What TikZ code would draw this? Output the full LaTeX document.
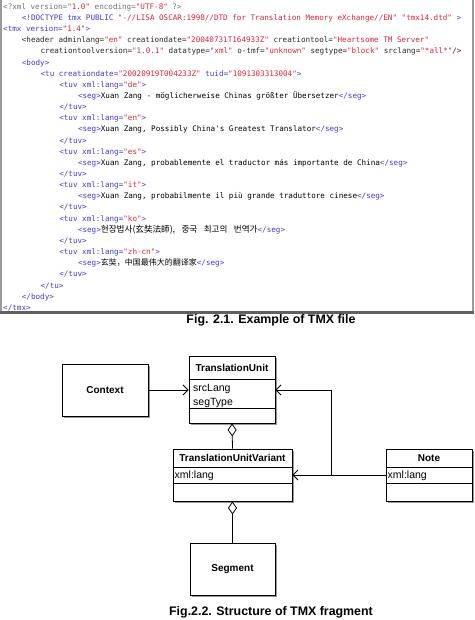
\documentclass[tikz,border=0pt]{standalone}
\usepackage{fontspec}
\usetikzlibrary{arrows.meta,shadows}
\newfontfamily\codefont[Ligatures=TeXOff]{DejaVu Sans Mono}
\newfontfamily\uifont{Liberation Sans}
\newfontfamily\krfont{Noto Sans CJK KR}
\newfontfamily\scfont{Noto Sans CJK SC}
\definecolor{xmltag}{RGB}{70,58,200}
\definecolor{xmlval}{RGB}{220,38,58}
\definecolor{xmldecl}{RGB}{115,115,115}
\definecolor{xmlhead}{RGB}{45,40,40}
\definecolor{shotframe}{RGB}{128,128,128}
\newcommand{\xtag}[1]{\textcolor{xmltag}{#1}}
\newcommand{\xval}[1]{\textcolor{xmlval}{#1}}
\newcommand{\xdecl}[1]{\textcolor{xmldecl}{#1}}
\newcommand{\xhead}[1]{\textcolor{xmlhead}{#1}}

\begin{document}
\begin{tikzpicture}[x=1pt, y=-1pt,
    code/.style={anchor=base west, inner sep=0pt,
                 font=\codefont\fontsize{7.6}{9}\selectfont},
    figcap/.style={inner sep=0pt, font=\uifont\bfseries\fontsize{12.4}{14}\selectfont},
    cls/.style={draw=black, fill=white, line width=0.9pt, inner sep=0pt,
                drop shadow={shadow xshift=1.8pt, shadow yshift=-1.8pt,
                             fill=black!40, opacity=1}},
    clsname/.style={inner sep=0pt, font=\uifont\bfseries\fontsize{10}{12}\selectfont},
    attr/.style={anchor=base west, inner sep=0pt,
                 font=\uifont\fontsize{10.5}{12}\selectfont},
    sep/.style={draw=black, line width=0.9pt},
    assoc/.style={draw=black, line width=0.8pt,
                  -{Straight Barb[length=5pt, width=10pt]}},
    agg/.style={draw=black, line width=0.8pt,
                {Diamond[open, length=13pt, width=9pt]}-}]
  \useasboundingbox[fill=white] (0,0) rectangle (474,620);

  % --- screenshot of the TMX file
  \draw[shotframe!80, line width=2.2pt] (1.1,0) -- (1.1,312);
  \draw[shotframe!80, line width=2.2pt] (472.9,0) -- (472.9,312);
  \draw[shotframe!75!black, line width=2.8pt] (0,312.6) -- (474,312.6);

  \node[code] (l1)  at (3,9.3)      {\xdecl{<?xml version=}\xval{"1.0"} \xdecl{encoding=}\xval{"UTF-8"} \xdecl{?>}};
  \node[code] (l2)  at (21.7,20.5)  {\xtag{<!DOCTYPE tmx PUBLIC} \xval{"-//LISA OSCAR:1998//DTD for Translation Memory eXchange//EN"} \xval{"tmx14.dtd"} \xtag{>}};
  \node[code] (l3)  at (3,31.6)     {\xtag{<tmx version=}\xval{"1.4"}\xtag{>}};
  \node[code] (l4)  at (21.7,42.8)  {\xhead{<header adminlang=}\xval{"en"} \xhead{creationdate=}\xval{"20040731T164933Z"} \xhead{creationtool=}\xval{"Heartsome TM Server"}};
  \node[code] (l5)  at (40.4,53.9)  {\xhead{creationtoolversion=}\xval{"1.0.1"} \xhead{datatype=}\xval{"xml"} \xhead{o-tmf=}\xval{"unknown"} \xhead{segtype=}\xval{"block"} \xhead{srclang=}\xval{"*all*"}\xhead{/>}};
  \node[code] (l6)  at (21.7,65.1)  {\xtag{<body>}};
  \node[code] (l7)  at (40.4,76.2)  {\xtag{<tu creationdate=}\xval{"20020919T004233Z"} \xtag{tuid=}\xval{"1091303313004"}\xtag{>}};
  \node[code] (l8)  at (59.1,87.4)  {\xtag{<tuv xml:lang=}\xval{"de"}\xtag{>}};
  \node[code] (l9)  at (77.8,98.5)  {\xtag{<seg>}Xuan Zang - möglicherweise Chinas größter Übersetzer\xtag{</seg>}};
  \node[code] (l10) at (59.1,109.7) {\xtag{</tuv>}};
  \node[code] (l11) at (59.1,120.8) {\xtag{<tuv xml:lang=}\xval{"en"}\xtag{>}};
  \node[code] (l12) at (77.8,132.0) {\xtag{<seg>}Xuan Zang, Possibly China's Greatest Translator\xtag{</seg>}};
  \node[code] (l13) at (59.1,143.1) {\xtag{</tuv>}};
  \node[code] (l14) at (59.1,154.3) {\xtag{<tuv xml:lang=}\xval{"es"}\xtag{>}};
  \node[code] (l15) at (77.8,165.4) {\xtag{<seg>}Xuan Zang, probablemente el traductor más importante de China\xtag{</seg>}};
  \node[code] (l16) at (59.1,176.6) {\xtag{</tuv>}};
  \node[code] (l17) at (59.1,187.7) {\xtag{<tuv xml:lang=}\xval{"it"}\xtag{>}};
  \node[code] (l18) at (77.8,198.9) {\xtag{<seg>}Xuan Zang, probabilmente il più grande traduttore cinese\xtag{</seg>}};
  \node[code] (l19) at (59.1,210.0) {\xtag{</tuv>}};
  \node[code] (l20) at (59.1,221.2) {\xtag{<tuv xml:lang=}\xval{"ko"}\xtag{>}};
  \node[code] (l21) at (77.8,232.3) {\xtag{<seg>}{\krfont\fontsize{8.6}{9}\selectfont\spaceskip=6.4pt 현장법사(玄奘法師), 중국 최고의 번역가}\xtag{</seg>}};
  \node[code] (l22) at (59.1,243.5) {\xtag{</tuv>}};
  \node[code] (l23) at (59.1,254.6) {\xtag{<tuv xml:lang=}\xval{"zh-cn"}\xtag{>}};
  \node[code] (l24) at (77.8,265.8) {\xtag{<seg>}{\scfont\fontsize{8}{9}\selectfont 玄奘，中国最伟大的翻译家}\xtag{</seg>}};
  \node[code] (l25) at (59.1,276.9) {\xtag{</tuv>}};
  \node[code] (l26) at (40.4,288.1) {\xtag{</tu>}};
  \node[code] (l27) at (21.7,299.2) {\xtag{</body>}};
  \node[code] (l28) at (3,310.4)    {\xtag{</tmx>}};

  \node[figcap] (cap1) at (271,320.5) {Fig. 2.1. Example of TMX file};

  % --- class diagram
  \node[cls, minimum width=86, minimum height=52] (ctx) at (105,390) {};
  \node[clsname] (ctxname) at (ctx.center) {Context};

  \node[cls, minimum width=86, minimum height=67] (tu) at (232,389.5) {};
  \node[clsname] (tuname) at (232,367.5) {TranslationUnit};
  \draw[sep] (tu.west |- 0,379) -- (tu.east |- 0,379);
  \draw[sep] (tu.west |- 0,408) -- (tu.east |- 0,408);
  \node[attr] (tusrc) at (193,391) {srcLang};
  \node[attr] (tuseg) at (193,405) {segType};

  \node[cls, minimum width=119, minimum height=52] (tuv) at (232.5,475) {};
  \node[clsname] (tuvname) at (232.5,458) {TranslationUnitVariant};
  \draw[sep] (tuv.west |- 0,467) -- (tuv.east |- 0,467);
  \draw[sep] (tuv.west |- 0,483) -- (tuv.east |- 0,483);
  \node[attr] (tuvlang) at (174.5,478.8) {xml:lang};

  \node[cls, minimum width=86, minimum height=52] (note) at (429,475) {};
  \node[clsname] (notename) at (429,458) {Note};
  \draw[sep] (note.west |- 0,467) -- (note.east |- 0,467);
  \draw[sep] (note.west |- 0,483) -- (note.east |- 0,483);
  \node[attr] (notelang) at (387.5,478.8) {xml:lang};

  \node[cls, minimum width=85, minimum height=52] (seg) at (232.5,569) {};
  \node[clsname] (segname) at (seg.center) {Segment};

  \draw[assoc] (ctx.east) -- (tu.west |- ctx.east);
  \draw[agg] (tu.south) -- (tuv.north);
  \draw[agg] (tuv.south) -- (seg.north);
  \draw[assoc] (note.west) -- (tuv.east);
  \coordinate (nj) at (331,475);
  \draw[assoc] (nj) |- (tu.east |- ctx.east);

  \node[figcap] (cap2) at (271,612) {Fig.2.2. Structure of TMX fragment};
\end{tikzpicture}
\end{document}
